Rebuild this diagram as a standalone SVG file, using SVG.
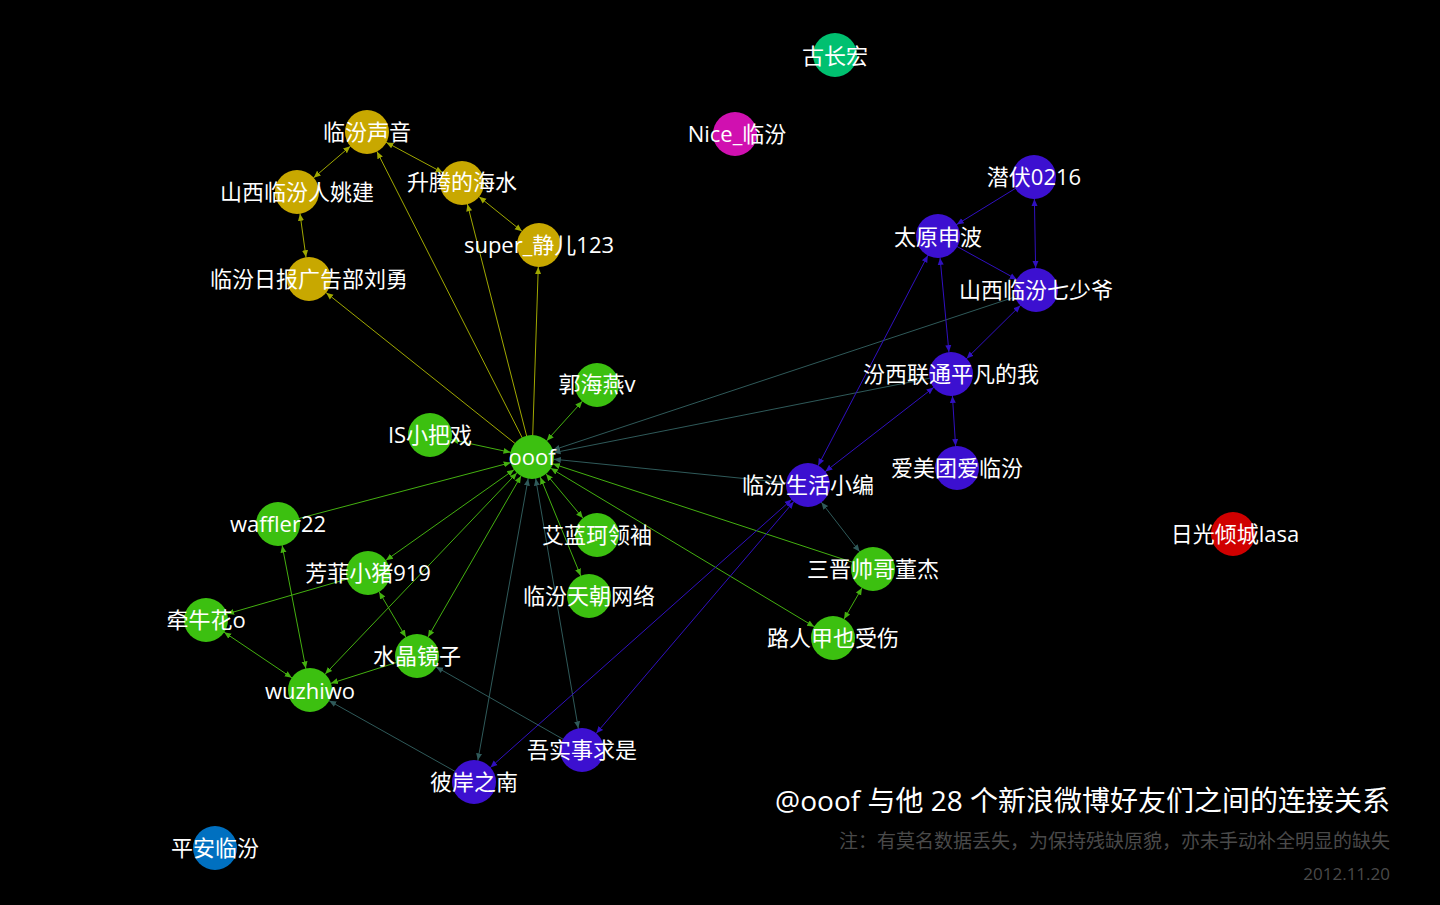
<svg xmlns="http://www.w3.org/2000/svg" width="1440" height="905" viewBox="0 0 1440 905">
<style>
text{font-family:"Open Sans","Noto Sans CJK SC",sans-serif;fill:#fff;font-size:22px;text-anchor:middle;dominant-baseline:central}
.g line{stroke-width:1}
.y{stroke:#a0a800}.gr{stroke:#44b010}.t{stroke:#2f5a5a}.p{stroke:#3010c0}
.gold{fill:#c8a800}.grn{fill:#3cc010}.pur{fill:#3c10d0}
</style>
<defs>
<marker id="a" markerUnits="userSpaceOnUse" viewBox="0 -5 30 10" refX="29" refY="0" markerWidth="30" markerHeight="10" orient="auto-start-reverse"><path d="M0,-3L7,0L0,3z" fill="context-stroke"/></marker>
</defs>
<rect width="1440" height="905" fill="#000"/>
<g id="connectors" class="g" marker-end="url(#a)">
<line class="y" x1="532" y1="457" x2="367" y2="132"/>
<line class="y" x1="532" y1="457" x2="462" y2="183"/>
<line class="y" x1="532" y1="457" x2="539" y2="245"/>
<line class="y" x1="532" y1="457" x2="309" y2="279"/>
<line class="y" x1="367" y1="132" x2="297" y2="192" marker-start="url(#a)"/>
<line class="y" x1="367" y1="132" x2="462" y2="183" marker-start="url(#a)"/>
<line class="y" x1="462" y1="183" x2="539" y2="245" marker-start="url(#a)"/>
<line class="y" x1="297" y1="192" x2="309" y2="279" marker-start="url(#a)"/>
<line class="gr" x1="532" y1="457" x2="597" y2="385" marker-start="url(#a)"/>
<line class="gr" x1="430" y1="435" x2="532" y2="457" marker-start="url(#a)"/>
<line class="gr" x1="278" y1="524" x2="532" y2="457"/>
<line class="gr" x1="368" y1="573" x2="532" y2="457" marker-start="url(#a)"/>
<line class="gr" x1="310" y1="690" x2="532" y2="457" marker-start="url(#a)"/>
<line class="gr" x1="417" y1="656" x2="532" y2="457" marker-start="url(#a)"/>
<line class="gr" x1="532" y1="457" x2="597" y2="535" marker-start="url(#a)"/>
<line class="gr" x1="532" y1="457" x2="589" y2="596" marker-start="url(#a)"/>
<line class="gr" x1="873" y1="569" x2="532" y2="457"/>
<line class="gr" x1="833" y1="638" x2="532" y2="457" marker-start="url(#a)"/>
<line class="t" x1="582" y1="750" x2="532" y2="457" marker-start="url(#a)"/>
<line class="t" x1="532" y1="457" x2="474" y2="782" marker-start="url(#a)"/>
<line class="t" x1="808" y1="485" x2="532" y2="457"/>
<line class="t" x1="951" y1="374" x2="532" y2="457"/>
<line class="t" x1="1036" y1="290" x2="532" y2="457"/>
<line class="gr" x1="278" y1="524" x2="310" y2="690" marker-start="url(#a)"/>
<line class="gr" x1="368" y1="573" x2="206" y2="620"/>
<line class="gr" x1="368" y1="573" x2="417" y2="656" marker-start="url(#a)"/>
<line class="gr" x1="206" y1="620" x2="310" y2="690" marker-start="url(#a)"/>
<line class="gr" x1="417" y1="656" x2="310" y2="690"/>
<line class="t" x1="474" y1="782" x2="310" y2="690"/>
<line class="t" x1="582" y1="750" x2="417" y2="656"/>
<line class="p" x1="1034" y1="177" x2="938" y2="236"/>
<line class="p" x1="1034" y1="177" x2="1036" y2="290" marker-start="url(#a)"/>
<line class="p" x1="938" y1="236" x2="1036" y2="290"/>
<line class="p" x1="938" y1="236" x2="951" y2="374" marker-start="url(#a)"/>
<line class="p" x1="1036" y1="290" x2="951" y2="374" marker-start="url(#a)"/>
<line class="p" x1="951" y1="374" x2="957" y2="468" marker-start="url(#a)"/>
<line class="p" x1="951" y1="374" x2="808" y2="485" marker-start="url(#a)"/>
<line class="p" x1="808" y1="485" x2="938" y2="236" marker-start="url(#a)"/>
<line class="p" x1="808" y1="485" x2="474" y2="782" marker-start="url(#a)"/>
<line class="p" x1="808" y1="485" x2="582" y2="750" marker-start="url(#a)"/>
<line class="t" x1="808" y1="485" x2="873" y2="569" marker-start="url(#a)"/>
<line class="gr" x1="873" y1="569" x2="833" y2="638" marker-start="url(#a)"/>
</g>
<g id="n1"><circle cx="835" cy="55" r="22" fill="#00c070"/><text x="835" y="55">古长宏</text></g>
<g id="n2"><circle cx="735" cy="134" r="22" fill="#d010b0"/><text x="737" y="133">Nice_临汾</text></g>
<g id="n3"><circle class="gold" cx="367" cy="132" r="22"/><text x="367" y="131">临汾声音</text></g>
<g id="n4"><circle class="gold" cx="297" cy="192" r="22"/><text x="297" y="191">山西临汾人姚建</text></g>
<g id="n5"><circle class="gold" cx="462" cy="183" r="22"/><text x="462" y="181">升腾的海水</text></g>
<g id="n6"><circle class="gold" cx="539" cy="245" r="22"/><text x="539" y="244">super_静儿123</text></g>
<g id="n7"><circle class="gold" cx="309" cy="279" r="22"/><text x="309" y="278">临汾日报广告部刘勇</text></g>
<g id="n8"><circle class="pur" cx="1034" cy="177" r="22"/><text x="1034" y="176">潜伏0216</text></g>
<g id="n9"><circle class="pur" cx="938" cy="236" r="22"/><text x="938" y="236">太原申波</text></g>
<g id="n10"><circle class="pur" cx="1036" cy="290" r="22"/><text x="1036" y="289">山西临汾七少爷</text></g>
<g id="n11"><circle class="pur" cx="951" cy="374" r="22"/><text x="951" y="373">汾西联通平凡的我</text></g>
<g id="n12"><circle class="pur" cx="957" cy="468" r="22"/><text x="957" y="467">爱美团爱临汾</text></g>
<g id="n13"><circle class="pur" cx="808" cy="485" r="22"/><text x="808" y="484">临汾生活小编</text></g>
<g id="n14"><circle cx="1233" cy="534" r="22" fill="#d00000"/><text x="1235" y="533">日光倾城lasa</text></g>
<g id="n15"><circle class="grn" cx="532" cy="457" r="22"/><text x="532" y="456">ooof</text></g>
<g id="n16"><circle class="grn" cx="597" cy="385" r="22"/><text x="597" y="383">郭海燕v</text></g>
<g id="n17"><circle class="grn" cx="430" cy="435" r="22"/><text x="430" y="434">IS小把戏</text></g>
<g id="n18"><circle class="grn" cx="278" cy="524" r="22"/><text x="278" y="523">waffler22</text></g>
<g id="n19"><circle class="grn" cx="368" cy="573" r="22"/><text x="368" y="572">芳菲小猪919</text></g>
<g id="n20"><circle class="grn" cx="206" cy="620" r="22"/><text x="206" y="619">牵牛花o</text></g>
<g id="n21"><circle class="grn" cx="310" cy="690" r="22"/><text x="310" y="690">wuzhiwo</text></g>
<g id="n22"><circle class="grn" cx="417" cy="656" r="22"/><text x="417" y="655">水晶镜子</text></g>
<g id="n23"><circle class="grn" cx="597" cy="535" r="22"/><text x="597" y="534">艾蓝珂领袖</text></g>
<g id="n24"><circle class="grn" cx="589" cy="596" r="22"/><text x="589" y="595">临汾天朝网络</text></g>
<g id="n25"><circle class="grn" cx="873" cy="569" r="22"/><text x="873" y="568">三晋帅哥董杰</text></g>
<g id="n26"><circle class="grn" cx="833" cy="638" r="22"/><text x="833" y="637">路人甲也受伤</text></g>
<g id="n27"><circle class="pur" cx="582" cy="750" r="22"/><text x="582" y="749">吾实事求是</text></g>
<g id="n28"><circle class="pur" cx="474" cy="782" r="22"/><text x="474" y="781">彼岸之南</text></g>
<g id="n29"><circle cx="215" cy="848" r="22" fill="#0070c0"/><text x="215" y="847">平安临汾</text></g>
<g id="title">
<text x="1390" y="800" style="text-anchor:end;font-size:28px">@ooof 与他 28 个新浪微博好友们之间的连接关系</text>
<text x="1390" y="841" style="text-anchor:end;font-size:19px;fill:#4a4a4a">注：有莫名数据丢失，为保持残缺原貌，亦未手动补全明显的缺失</text>
<text x="1390" y="873" style="text-anchor:end;font-size:17px;fill:#4a4a4a">2012.11.20</text>
</g>
</svg>
